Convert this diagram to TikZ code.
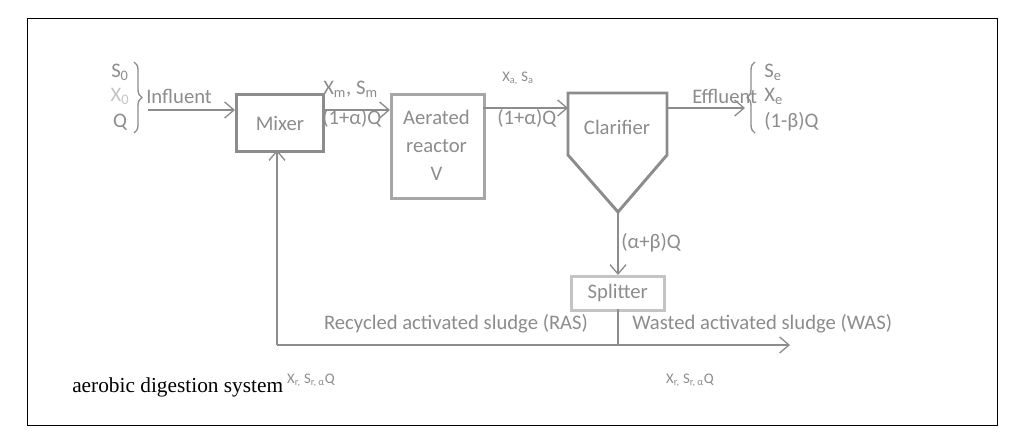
\documentclass[tikz,border=0pt]{standalone}
\usepackage{fontspec}
\setmainfont{Carlito}
\newfontfamily\serif{Liberation Serif}
\usetikzlibrary{arrows.meta,decorations.pathreplacing}
\definecolor{g1}{HTML}{8C8C8C}
\definecolor{g2}{HTML}{A6A6A6}
\definecolor{g3}{HTML}{C4C4C4}
\begin{document}
\begin{tikzpicture}[x=0.75pt,y=-0.75pt,
  box/.style={draw=g1,line width=2.2pt},
  flow/.style={draw=g1,line width=1pt,-{Straight Barb[length=7pt,width=12pt]}},
  txt/.style={text=g1,font=\fontsize{15.5}{18}\selectfont,inner sep=0pt},
  sm/.style={text=g1,font=\fontsize{11}{13}\selectfont,inner sep=0pt},
  brace/.style={draw=g1,line width=1pt,decorate,decoration={brace,amplitude=6pt}}]
\useasboundingbox (0,0) rectangle (1024,442);
\draw[black,line width=0.6pt] (27,18) rectangle (997,425);
% boxes
\node[box,minimum width=65.25pt,minimum height=42.75pt,anchor=north west,inner sep=0pt] (mix) at (235,93) {};
\node[txt] at (mix.center) {Mixer};
\node[box,draw=g2,minimum width=69.75pt,minimum height=78pt,anchor=north west,inner sep=0pt] (reac) at (390,93) {};
\node[txt,align=center] at (436.5,145) {Aerated\\[3pt]reactor\\[3pt]V};
\draw[box] (568,93) coordinate (c1) -- (667,93) coordinate (c2) -- (667,155) -- (618,212) coordinate (apex) -- (568,155) -- cycle;
\node[txt] at (617,127) {Clarifier};
\node[draw=g3,line width=2pt,minimum width=69.75pt,minimum height=25.5pt,anchor=north west,inner sep=0pt] (spl) at (570,275) {};
\node[txt] at (spl.center) {Splitter};
% coordinates
\coordinate (inA) at (148,110);
\coordinate (mixIn) at (235,110);
\coordinate (effA) at (667,108);
\coordinate (effB) at (745,108);
\coordinate (rL) at (277,345);
\coordinate (rJ) at (618,345);
\coordinate (rR) at (790,345);
\coordinate (mixB) at (277,150);
\coordinate (splT) at (618,275);
\coordinate (splB) at (618,309);
% flows
\draw[flow] (inA) -- (mixIn);
\draw[flow] (322,110) -- (390,110);
\draw[flow] (483,108) -- (568,108);
\draw[flow] (effA) -- (effB);
\draw[flow] (apex) -- (splT);
\draw[g1,line width=1pt] (splB) -- (rJ);
\draw[g1,line width=1pt] (rJ) -- (rL);
\draw[flow] (rL) -- (mixB);
\draw[flow] (rJ) -- (rR);
% labels
\node[txt] at (120,72) {S\textsubscript{0}};
\node[txt,text=g3] at (120,96) {X\textsubscript{0}};
\node[txt] at (120,122) {Q};
\draw[brace] (134,62) -- (134,133);
\node[txt,anchor=west] at (146,96) {Influent};
\node[txt,anchor=west] at (323,89) {X\textsubscript{m}, S\textsubscript{m}};
\node[txt,anchor=west] at (322,118) {(1+α)Q};
\node[sm,anchor=west] at (502,78) {X\textsubscript{a,} S\textsubscript{a}};
\node[txt,anchor=west] at (497,118) {(1+α)Q};
\node[txt,anchor=west] at (692,96) {Effluent};
\draw[brace] (755,133) -- (755,62);
\node[txt,anchor=west] at (764,72) {S\textsubscript{e}};
\node[txt,anchor=west] at (764,96) {X\textsubscript{e}};
\node[txt,anchor=west] at (764,122) {(1-β)Q};
\node[txt,anchor=west] at (621,243) {(α+β)Q};
\node[txt] at (456,324) {Recycled activated sludge (RAS)};
\node[txt,anchor=west] at (632,324) {Wasted activated sludge (WAS)};
\node[sm] at (311,380) {X\textsubscript{r,} S\textsubscript{r, α}Q};
\node[sm] at (690,380) {X\textsubscript{r,} S\textsubscript{r, α}Q};
\node[anchor=west,inner sep=0pt,font=\serif\fontsize{16}{18}\selectfont] at (72,387) {aerobic digestion system};
\end{tikzpicture}
\end{document}
